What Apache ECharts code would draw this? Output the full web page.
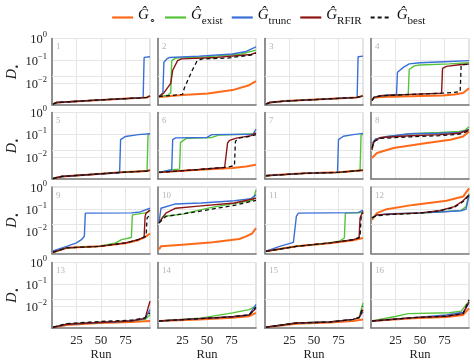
<!DOCTYPE html>
<html><head><meta charset="utf-8">
<script src="https://cdn.jsdelivr.net/npm/echarts@6/dist/echarts.min.js"></script>
<style>html,body{margin:0;padding:0;background:#fff}#c{width:474px;height:362px}</style>
</head><body><div id="c"></div><script>
// ---- categories / labels ----
const seriesNames = ['Ĝ∘', 'Ĝexist', 'Ĝtrunc', 'ĜRFIR', 'Ĝbest'];
const panelLabels = ['1','2','3','4','5','6','7','8','9','10','11','12','13','14','15','16'];
const xTickLabels = [25, 50, 75];
const yTickLabels = {'0': '10|0', '-1': '10|−1', '-2': '10|−2'};
const xName = 'Run';

// ---- data: [run, D] per panel ----
const base1 = [[1,0.0011],[5,0.0013],[18,0.0014],[50,0.0017],[90,0.0021],[97,0.0022],[100,0.0026]];
const base3 = [[1,0.0011],[5,0.0013],[20,0.0015],[56,0.0018],[94,0.0022],[100,0.0026]];
const base5 = [[1,0.00105],[10,0.0013],[40,0.0016],[71,0.002],[97,0.0023],[100,0.0025]];
const base7 = [[1,0.0014],[10,0.0015],[40,0.0018],[75,0.002],[100,0.0025]];

const orange = [
  base1,
  [[1,0.0023],[25,0.0028],[51,0.0033],[76,0.0047],[93,0.0078],[100,0.012]],
  base3,
  [[1,0.0016],[3,0.0021],[10,0.0023],[40,0.0025],[73,0.0027],[85,0.003],[94,0.0035],[100,0.0057]],
  base5,
  [[1,0.002],[42,0.0026],[76,0.0031],[90,0.0037],[100,0.0044]],
  base7,
  [[1,0.0089],[6,0.015],[23,0.025],[57,0.042],[81,0.059],[94,0.083],[100,0.14]],
  [[1,0.00114],[15,0.0018],[48,0.0021],[75,0.0029],[88,0.004],[95,0.0055],[100,0.008]],
  [[1,0.0015],[3,0.0021],[25,0.0025],[56,0.0032],[83,0.0045],[90,0.0059],[96,0.008],[100,0.014]],
  [[1,0.00126],[32,0.0021],[66,0.0029],[90,0.004],[100,0.005]],
  [[1,0.033],[6,0.066],[16,0.1],[43,0.156],[77,0.24],[94,0.37],[100,0.87]],
  [[1,0.00107],[15,0.0014],[48,0.0017],[81,0.0019],[100,0.0021]],
  [[1,0.0021],[42,0.0025],[76,0.003],[93,0.0035],[100,0.005]],
  [[1,0.0011],[32,0.0016],[66,0.0018],[90,0.0021],[100,0.0025]],
  [[1,0.0021],[43,0.0028],[77,0.0032],[94,0.004],[100,0.008]]
];
const green = [
  base1,
  [[1,0.0024],[10,0.0028],[13,0.0035],[14,0.1],[18,0.13],[50,0.15],[85,0.2],[100,0.3]],
  base3,
  [[1,0.0016],[3,0.0022],[10,0.0026],[38,0.003],[39,0.04],[44,0.058],[50,0.064],[80,0.072],[100,0.08]],
  [[1,0.00105],[10,0.0013],[40,0.0016],[71,0.002],[97,0.0023],[98,0.1],[100,0.11]],
  [[1,0.002],[15,0.0026],[22,0.0028],[23,0.045],[29,0.068],[55,0.075],[62,0.095],[100,0.11]],
  [[1,0.0014],[10,0.0015],[40,0.0018],[75,0.002],[97,0.0024],[98,0.1],[100,0.1]],
  [[1,0.03],[5,0.065],[15,0.08],[40,0.11],[70,0.125],[90,0.14],[96,0.16],[100,0.23]],
  [[1,0.00114],[15,0.0018],[48,0.0021],[65,0.003],[71,0.0042],[81,0.0053],[82,0.055],[84,0.066],[97,0.07],[100,0.09]],
  [[1,0.024],[5,0.047],[25,0.06],[42,0.09],[59,0.13],[83,0.2],[97,0.25],[100,0.73]],
  [[1,0.00126],[32,0.0021],[66,0.003],[76,0.0036],[81,0.005],[82,0.066],[100,0.07]],
  [[1,0.038],[6,0.055],[20,0.06],[50,0.066],[70,0.075],[92,0.088],[97,0.13],[100,0.5]],
  [[1,0.00107],[15,0.0015],[48,0.0018],[81,0.0021],[95,0.0025],[100,0.004]],
  [[1,0.0021],[42,0.0028],[76,0.005],[93,0.007],[100,0.01]],
  [[1,0.0011],[32,0.0017],[66,0.0019],[90,0.0025],[96,0.003],[100,0.014]],
  [[1,0.0021],[26,0.0035],[38,0.0046],[80,0.005],[92,0.006],[100,0.017]]
];
const blue = [
  [[1,0.0011],[5,0.0013],[18,0.0014],[50,0.0017],[90,0.0021],[93,0.0022],[94,0.14],[100,0.15]],
  [[1,0.0024],[5,0.0035],[6,0.085],[9,0.12],[12,0.14],[42,0.16],[76,0.2],[90,0.26],[100,0.42]],
  [[1,0.0011],[5,0.0013],[20,0.0015],[56,0.0018],[94,0.0022],[95,0.15],[100,0.16]],
  [[1,0.0016],[3,0.0022],[10,0.0026],[26,0.003],[27,0.03],[33,0.05],[39,0.072],[50,0.08],[75,0.09],[100,0.1]],
  [[1,0.00105],[10,0.0013],[40,0.0016],[69,0.0019],[70,0.06],[75,0.083],[88,0.1],[100,0.11]],
  [[1,0.002],[14,0.0026],[15,0.06],[18,0.072],[50,0.075],[55,0.1],[97,0.105],[100,0.18]],
  [[1,0.0014],[10,0.0015],[40,0.0018],[74,0.002],[75,0.06],[80,0.085],[90,0.1],[100,0.115]],
  [[1,0.04],[5,0.065],[15,0.08],[40,0.11],[70,0.115],[90,0.125],[100,0.17]],
  [[1,0.0013],[15,0.0021],[25,0.003],[30,0.0042],[33,0.006],[34,0.066],[81,0.068],[90,0.075],[100,0.11]],
  [[1,0.024],[3,0.11],[17,0.17],[44,0.19],[78,0.24],[95,0.3],[100,0.44]],
  [[1,0.00126],[15,0.0021],[29,0.0032],[31,0.0036],[32,0.047],[34,0.066],[95,0.07],[100,0.09]],
  [[1,0.04],[6,0.055],[20,0.062],[50,0.068],[70,0.075],[92,0.085],[97,0.1],[100,0.4]],
  [[1,0.00107],[15,0.0015],[48,0.0018],[81,0.0021],[95,0.0027],[100,0.007]],
  [[1,0.0021],[42,0.0027],[76,0.0033],[93,0.004],[100,0.012]],
  [[1,0.0011],[32,0.0017],[66,0.0019],[90,0.0025],[96,0.003],[100,0.0055]],
  [[1,0.0021],[43,0.003],[77,0.004],[94,0.0053],[100,0.014]]
];
const red = [
  base1,
  [[1,0.0024],[6,0.0035],[13,0.0095],[15,0.037],[20,0.1],[24,0.12],[60,0.14],[95,0.19],[100,0.23]],
  base3,
  [[1,0.0016],[3,0.0022],[10,0.0026],[40,0.003],[72,0.0034],[73,0.045],[77,0.055],[90,0.065],[100,0.07]],
  base5,
  [[1,0.002],[42,0.0027],[68,0.0033],[70,0.004],[71,0.042],[73,0.055],[80,0.07],[95,0.09],[100,0.12]],
  base7,
  [[1,0.02],[3,0.05],[10,0.075],[40,0.09],[70,0.1],[90,0.115],[100,0.17]],
  [[1,0.00114],[15,0.0018],[48,0.0021],[75,0.003],[88,0.0042],[94,0.0055],[95,0.047],[96,0.066],[100,0.09]],
  [[1,0.024],[8,0.066],[18,0.11],[44,0.14],[78,0.19],[100,0.31]],
  [[1,0.00126],[32,0.0021],[66,0.003],[90,0.0042],[96,0.005],[97,0.04],[99,0.066],[100,0.08]],
  [[1,0.04],[6,0.055],[20,0.06],[50,0.068],[70,0.085],[85,0.13],[94,0.24],[100,0.45]],
  [[1,0.00107],[15,0.0015],[48,0.0018],[81,0.0021],[95,0.0028],[100,0.017]],
  [[1,0.0021],[42,0.0027],[76,0.0033],[93,0.004],[100,0.008]],
  [[1,0.0011],[32,0.0017],[66,0.0019],[90,0.0025],[96,0.003],[100,0.007]],
  [[1,0.0021],[43,0.003],[77,0.0035],[94,0.0046],[100,0.016]]
];
const best = [
  base1,
  [[1,0.0024],[25,0.003],[27,0.006],[35,0.037],[40,0.1],[45,0.12],[70,0.13],[95,0.18],[100,0.22]],
  base3,
  [[1,0.0016],[3,0.0022],[10,0.0026],[40,0.003],[72,0.0034],[85,0.0037],[91,0.004],[92,0.065],[100,0.07]],
  base5,
  [[1,0.002],[42,0.0027],[70,0.0034],[78,0.004],[79,0.05],[82,0.07],[95,0.085],[100,0.1]],
  base7,
  [[1,0.025],[3,0.05],[10,0.068],[40,0.08],[70,0.09],[90,0.105],[100,0.15]],
  [[1,0.00114],[15,0.0018],[48,0.0021],[75,0.003],[88,0.0042],[96,0.006],[97,0.04],[100,0.055]],
  [[1,0.024],[8,0.047],[42,0.08],[78,0.15],[100,0.25]],
  [[1,0.00126],[32,0.0021],[66,0.003],[90,0.0042],[97,0.0055],[98,0.04],[100,0.07]],
  [[1,0.042],[6,0.05],[20,0.058],[50,0.066],[70,0.085],[85,0.12],[94,0.22],[100,0.42]],
  [[1,0.0011],[15,0.0016],[48,0.002],[81,0.0023],[95,0.003],[100,0.005]],
  [[1,0.0021],[42,0.0027],[76,0.0033],[93,0.004],[100,0.009]],
  [[1,0.0011],[32,0.0017],[66,0.0019],[90,0.0025],[96,0.003],[100,0.01]],
  [[1,0.0021],[43,0.003],[77,0.0035],[94,0.0046],[100,0.02]]
];
const allData = [orange, green, blue, red, best];

// ---- styles ----
const colors = ['#ff6a1a', '#56c43a', '#3a6fd8', '#8c1414', '#111111'];
const widths = [2, 1.4, 1.4, 1.4, 1.3];
const dashes = ['solid', 'solid', 'solid', 'solid', [4, 3]];
const colLeft = [52, 158, 265, 371];
const rowTop = [38.5, 112.5, 187, 262.5];
const PW = 98, PH = 66.5;
const FONT = 'Liberation Serif';

const grids = [], xAxes = [], yAxes = [], series = [], graphics = [];
for (let p = 0; p < 16; p++) {
  const r = Math.floor(p / 4), c = p % 4;
  grids.push({left: colLeft[c], top: rowTop[r], width: PW, height: PH, show: true,
    borderColor: '#c4c4c4', borderWidth: 1, backgroundColor: 'transparent'});
  xAxes.push({gridIndex: p, type: 'value', min: 0, max: 100, interval: 25,
    axisLine: {show: true, onZero: false, lineStyle: {color: '#7a7a7a', width: 1.6}},
    axisTick: {show: false},
    splitLine: {show: true, lineStyle: {color: '#e6e6e6', width: 1}},
    axisLabel: {show: r === 3, margin: 6, color: '#222', fontFamily: FONT, fontSize: 12.5,
      formatter: v => xTickLabels.indexOf(v) >= 0 ? String(v) : ''},
    name: r === 3 ? xName : '', nameLocation: 'middle', nameGap: 18,
    nameTextStyle: {color: '#222', fontFamily: FONT, fontSize: 12.5}
  });
  yAxes.push({gridIndex: p, type: 'log', logBase: 10, min: 0.001, max: 1,
    axisLine: {show: true, lineStyle: {color: '#7a7a7a', width: 1.6}},
    axisTick: {show: false},
    splitLine: {show: true, lineStyle: {color: '#e6e6e6', width: 1}},
    axisLabel: {show: c === 0, margin: 5, color: '#222',
      formatter: v => {
        const k = String(Math.round(Math.log10(v)));
        const t = yTickLabels[k];
        if (!t) return '';
        const parts = t.split('|');
        return '{b|' + parts[0] + '}{s|' + parts[1] + '}';
      },
      rich: {b: {fontFamily: FONT, fontSize: 12.5, color: '#222', lineHeight: 16, verticalAlign: 'bottom'},
             s: {fontFamily: FONT, fontSize: 8.5, color: '#222', lineHeight: 16, verticalAlign: 'top'}}
    },
    name: c === 0 ? '{d|D}{s|•}' : '', nameLocation: 'middle', nameRotate: 90, nameGap: 30,
    nameTextStyle: {rich: {
      d: {fontFamily: FONT, fontStyle: 'italic', fontSize: 14, color: '#222', lineHeight: 16, verticalAlign: 'top'},
      s: {fontFamily: 'DejaVu Sans', fontSize: 8, color: '#222', lineHeight: 16, verticalAlign: 'bottom'}}}
  });
  graphics.push({type: 'text', left: colLeft[c] + 4, top: rowTop[r] + 4, z: 10,
    style: {text: panelLabels[p], fill: '#b5b5b5', font: '9px "' + FONT + '"'}});
  for (let m = 0; m < 5; m++) {
    const s = {type: 'line', name: seriesNames[m], xAxisIndex: p, yAxisIndex: p,
      data: allData[m][p], symbol: 'none', showSymbol: false, animation: false,
      lineStyle: {color: colors[m], width: widths[m], type: dashes[m]},
      itemStyle: {color: colors[m]}, z: 2 + m};
    if (m === 0) {
      s.markLine = {silent: true, symbol: 'none', label: {show: false}, animation: false,
        lineStyle: {color: '#e6e6e6', type: 'solid', width: 1}, data: [{yAxis: 0.02}], z: 1};
    }
    series.push(s);
  }
}

const chart = echarts.init(document.getElementById('c'), null, {renderer: 'canvas'});
chart.setOption({
  backgroundColor: '#fff',
  animation: false,
  legend: {
    data: seriesNames, top: 3, left: 106, itemWidth: 21, itemHeight: 10, itemGap: 8,
    itemStyle: {opacity: 0},
    lineStyle: {width: 2.2},
    formatter: n => '{g|Ĝ}{s|' + n.slice(1) + '}',
    textStyle: {rich: {
      g: {fontFamily: FONT, fontStyle: 'italic', fontSize: 15, color: '#111', lineHeight: 19, verticalAlign: 'top'},
      s: {fontFamily: FONT, fontSize: 11, color: '#111', lineHeight: 19, verticalAlign: 'bottom'}}}
  },
  grid: grids, xAxis: xAxes, yAxis: yAxes, series: series, graphic: graphics
});
</script></body></html>
